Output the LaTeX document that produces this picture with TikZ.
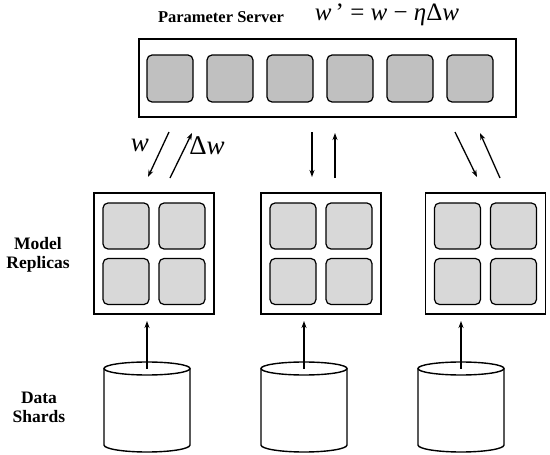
\documentclass[tikz,border=0pt]{standalone}
\usepackage{fontspec}
\setmainfont{Liberation Serif}
\usetikzlibrary{arrows.meta}
\definecolor{srvcell}{RGB}{192,192,192}
\definecolor{repcell}{RGB}{216,216,216}
\begin{document}
\begin{tikzpicture}[x=1pt,y=-1pt,
  srvbox/.style={draw,line width=1.6pt,minimum width=377pt,minimum height=78pt,inner sep=0pt},
  repbox/.style={draw,line width=1.6pt,minimum width=120pt,minimum height=121pt,inner sep=0pt},
  scell/.style={draw,line width=1.2pt,rounded corners=5pt,fill=srvcell,minimum width=46pt,minimum height=47pt,inner sep=0pt},
  rcell/.style={draw,line width=1.2pt,rounded corners=5pt,fill=repcell,minimum width=46pt,minimum height=46pt,inner sep=0pt},
  flow/.style={line width=1.3pt,-{Stealth[length=7pt,width=5pt]}},
  cyl/.style={line width=1.4pt},
  lbl/.style={font=\fontsize{17.5}{20}\selectfont\bfseries,align=center},
  ttl/.style={font=\fontsize{16.5}{20}\selectfont\bfseries},
  mth/.style={font=\fontsize{25}{27}\selectfont},
  amth/.style={font=\fontsize{27}{29}\selectfont}
]
\useasboundingbox (0,0) rectangle (550,455);
% parameter server
\node[ttl,anchor=center] (pstitle) at (221,17) {Parameter Server};
\node[mth,anchor=center] (rule) at (387,15) {\textit{w}\,' = \textit{w} − \textit{η}Δ\textit{w}};
\node[srvbox] (srv) at (327.5,78) {};
\foreach \i/\x in {1/170,2/230,3/290,4/350,5/410,6/470}
  \node[scell] (s\i) at (\x,78.5) {};
% replicas
\foreach \r/\cx in {1/154,2/321,3/485.5}{
  \node[repbox] (r\r) at (\cx,253.5) {};
  \node[rcell] (r\r a) at (\cx-28,226) {};
  \node[rcell] (r\r b) at (\cx+28,226) {};
  \node[rcell] (r\r c) at (\cx-28,281.5) {};
  \node[rcell] (r\r d) at (\cx+28,281.5) {};
}
\node[lbl] (mr) at (38,255) {Model\\[-1pt]Replicas};
\node[lbl] (ds) at (39,407) {Data\\[-1pt]Shards};
% arrows server <-> replicas
\coordinate (a1s) at (169,132); \coordinate (a1e) at (148,177);
\coordinate (b1s) at (170,178); \coordinate (b1e) at (192,133);
\coordinate (a2s) at (312,132); \coordinate (a2e) at (312,177);
\coordinate (b2s) at (335,178); \coordinate (b2e) at (335,133);
\coordinate (a3s) at (455,132); \coordinate (a3e) at (477,177);
\coordinate (b3s) at (500,178); \coordinate (b3e) at (480,133);
\foreach \k in {1,2,3}{
  \draw[flow] (a\k s) -- (a\k e);
  \draw[flow] (b\k s) -- (b\k e);
}
\node[amth] (wl) at (140,145) {\textit{w}};
\node[amth] (dwl) at (207,146) {Δ\textit{w}};
% data shards
\foreach \d/\cx in {1/147,2/304,3/461}{
  \coordinate (d\d) at (\cx,368.5);
  \draw[cyl,fill=white] (\cx-43,368.5) -- (\cx-43,445) arc[start angle=180,end angle=360,x radius=43,y radius=-7] -- (\cx+43,368.5);
  \draw[cyl] (d\d) ellipse[x radius=43,y radius=6.5];
  \coordinate (t\d) at (\cx,321);
  \draw[flow] (d\d) -- (t\d);
}
\end{tikzpicture}
\end{document}
